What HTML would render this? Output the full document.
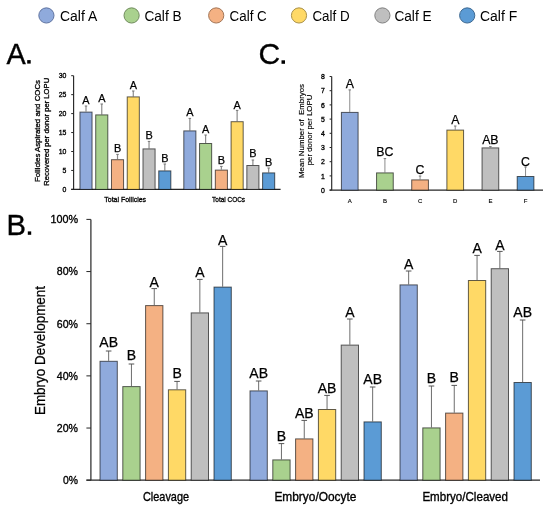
<!DOCTYPE html>
<html><head><meta charset="utf-8"><style>
html,body{margin:0;padding:0;background:#fff;}
body{width:550px;height:509px;overflow:hidden;}
svg{display:block;font-family:"Liberation Sans", sans-serif;will-change:transform;}
text{fill:#000;stroke:#000;stroke-width:0.25px;}
.h{stroke:none;}
.t{stroke-width:0.32px;}
.l{stroke-width:0.15px;}
.p{stroke-width:0.35px;}
.y{stroke-width:0.35px;}
</style></head><body>
<svg width="550" height="509" viewBox="0 0 550 509">
<circle cx="46.4" cy="15.45" r="7.6" fill="#8faadc" stroke="#5f73a0" stroke-width="1"/>
<text x="60.0" y="20.8" font-size="13.8" textLength="37.2" lengthAdjust="spacingAndGlyphs" class="h">Calf A</text>
<circle cx="131.6" cy="15.45" r="7.6" fill="#a9d18e" stroke="#6f8a5c" stroke-width="1"/>
<text x="144.4" y="20.8" font-size="13.8" textLength="37.2" lengthAdjust="spacingAndGlyphs" class="h">Calf B</text>
<circle cx="216.2" cy="15.45" r="7.6" fill="#f4b183" stroke="#a27556" stroke-width="1"/>
<text x="229.6" y="20.8" font-size="13.8" textLength="37.2" lengthAdjust="spacingAndGlyphs" class="h">Calf C</text>
<circle cx="299.0" cy="15.45" r="7.6" fill="#ffd966" stroke="#a99048" stroke-width="1"/>
<text x="312.4" y="20.8" font-size="13.8" textLength="37.2" lengthAdjust="spacingAndGlyphs" class="h">Calf D</text>
<circle cx="382.4" cy="15.45" r="7.6" fill="#bfbfbf" stroke="#808080" stroke-width="1"/>
<text x="394.4" y="20.8" font-size="13.8" textLength="37.2" lengthAdjust="spacingAndGlyphs" class="h">Calf E</text>
<circle cx="467.2" cy="15.45" r="7.6" fill="#5b9bd5" stroke="#3d6890" stroke-width="1"/>
<text x="480.0" y="20.8" font-size="13.8" textLength="37.2" lengthAdjust="spacingAndGlyphs" class="h">Calf F</text>
<text x="6.4" y="63.7" font-size="28.8" class="p">A</text>
<rect x="27.2" y="60.1" width="3.5" height="3.5" fill="#000"/>
<text x="258.6" y="63.9" font-size="30" class="p">C</text>
<rect x="281.5" y="60.3" width="3.5" height="3.5" fill="#000"/>
<text x="6.4" y="234.9" font-size="29.2" class="p">B</text>
<rect x="27.8" y="231.4" width="3.4" height="3.4" fill="#000"/>
<line x1="73.6" y1="75.7" x2="73.6" y2="189.4" stroke="#262626" stroke-width="1.15"/>
<line x1="71.2" y1="189.4" x2="280.6" y2="189.4" stroke="#262626" stroke-width="1.15"/>
<line x1="71.2" y1="189.40" x2="73.6" y2="189.40" stroke="#262626" stroke-width="1"/>
<text x="66.4" y="191.80" font-size="6.9" text-anchor="end" class="t">0</text>
<line x1="71.2" y1="170.45" x2="73.6" y2="170.45" stroke="#262626" stroke-width="1"/>
<text x="66.4" y="172.85" font-size="6.9" text-anchor="end" class="t">5</text>
<line x1="71.2" y1="151.50" x2="73.6" y2="151.50" stroke="#262626" stroke-width="1"/>
<text x="66.4" y="153.90" font-size="6.9" text-anchor="end" class="t">10</text>
<line x1="71.2" y1="132.55" x2="73.6" y2="132.55" stroke="#262626" stroke-width="1"/>
<text x="66.4" y="134.95" font-size="6.9" text-anchor="end" class="t">15</text>
<line x1="71.2" y1="113.60" x2="73.6" y2="113.60" stroke="#262626" stroke-width="1"/>
<text x="66.4" y="116.00" font-size="6.9" text-anchor="end" class="t">20</text>
<line x1="71.2" y1="94.65" x2="73.6" y2="94.65" stroke="#262626" stroke-width="1"/>
<text x="66.4" y="97.05" font-size="6.9" text-anchor="end" class="t">25</text>
<line x1="71.2" y1="75.70" x2="73.6" y2="75.70" stroke="#262626" stroke-width="1"/>
<text x="66.4" y="78.10" font-size="6.9" text-anchor="end" class="t">30</text>
<line x1="86.00" y1="106.00" x2="86.00" y2="111.60" stroke="#8c8c8c" stroke-width="1.2"/>
<line x1="84.75" y1="106.00" x2="87.25" y2="106.00" stroke="#777" stroke-width="1"/>
<rect x="79.95" y="112.10" width="12.10" height="77.30" fill="#8faadc" stroke="#000" stroke-opacity="0.62" stroke-width="1"/>
<text x="86.00" y="103.80" font-size="10.9" text-anchor="middle">A</text>
<line x1="101.76" y1="104.00" x2="101.76" y2="114.40" stroke="#8c8c8c" stroke-width="1.2"/>
<line x1="100.51" y1="104.00" x2="103.01" y2="104.00" stroke="#777" stroke-width="1"/>
<rect x="95.71" y="114.90" width="12.10" height="74.50" fill="#a9d18e" stroke="#000" stroke-opacity="0.62" stroke-width="1"/>
<text x="101.76" y="102.40" font-size="10.9" text-anchor="middle">A</text>
<line x1="117.52" y1="154.40" x2="117.52" y2="159.20" stroke="#8c8c8c" stroke-width="1.2"/>
<line x1="116.27" y1="154.40" x2="118.77" y2="154.40" stroke="#777" stroke-width="1"/>
<rect x="111.47" y="159.70" width="12.10" height="29.70" fill="#f4b183" stroke="#000" stroke-opacity="0.62" stroke-width="1"/>
<text x="117.52" y="152.20" font-size="10.9" text-anchor="middle">B</text>
<line x1="133.28" y1="91.00" x2="133.28" y2="96.40" stroke="#8c8c8c" stroke-width="1.2"/>
<line x1="132.03" y1="91.00" x2="134.53" y2="91.00" stroke="#777" stroke-width="1"/>
<rect x="127.23" y="96.90" width="12.10" height="92.50" fill="#ffd966" stroke="#000" stroke-opacity="0.62" stroke-width="1"/>
<text x="133.28" y="89.40" font-size="10.9" text-anchor="middle">A</text>
<line x1="149.04" y1="141.40" x2="149.04" y2="148.40" stroke="#8c8c8c" stroke-width="1.2"/>
<line x1="147.79" y1="141.40" x2="150.29" y2="141.40" stroke="#777" stroke-width="1"/>
<rect x="142.99" y="148.90" width="12.10" height="40.50" fill="#bfbfbf" stroke="#000" stroke-opacity="0.62" stroke-width="1"/>
<text x="149.04" y="139.40" font-size="10.9" text-anchor="middle">B</text>
<line x1="164.80" y1="164.00" x2="164.80" y2="170.40" stroke="#8c8c8c" stroke-width="1.2"/>
<line x1="163.55" y1="164.00" x2="166.05" y2="164.00" stroke="#777" stroke-width="1"/>
<rect x="158.75" y="170.90" width="12.10" height="18.50" fill="#5b9bd5" stroke="#000" stroke-opacity="0.62" stroke-width="1"/>
<text x="164.80" y="161.80" font-size="10.9" text-anchor="middle">B</text>
<line x1="189.85" y1="118.40" x2="189.85" y2="130.40" stroke="#8c8c8c" stroke-width="1.2"/>
<line x1="188.60" y1="118.40" x2="191.10" y2="118.40" stroke="#777" stroke-width="1"/>
<rect x="183.80" y="130.90" width="12.10" height="58.50" fill="#8faadc" stroke="#000" stroke-opacity="0.62" stroke-width="1"/>
<text x="189.85" y="116.20" font-size="10.9" text-anchor="middle">A</text>
<line x1="205.61" y1="135.00" x2="205.61" y2="143.00" stroke="#8c8c8c" stroke-width="1.2"/>
<line x1="204.36" y1="135.00" x2="206.86" y2="135.00" stroke="#777" stroke-width="1"/>
<rect x="199.56" y="143.50" width="12.10" height="45.90" fill="#a9d18e" stroke="#000" stroke-opacity="0.62" stroke-width="1"/>
<text x="205.61" y="132.80" font-size="10.9" text-anchor="middle">A</text>
<line x1="221.37" y1="166.40" x2="221.37" y2="169.60" stroke="#8c8c8c" stroke-width="1.2"/>
<line x1="220.12" y1="166.40" x2="222.62" y2="166.40" stroke="#777" stroke-width="1"/>
<rect x="215.32" y="170.10" width="12.10" height="19.30" fill="#f4b183" stroke="#000" stroke-opacity="0.62" stroke-width="1"/>
<text x="221.37" y="163.80" font-size="10.9" text-anchor="middle">B</text>
<line x1="237.13" y1="110.40" x2="237.13" y2="121.20" stroke="#8c8c8c" stroke-width="1.2"/>
<line x1="235.88" y1="110.40" x2="238.38" y2="110.40" stroke="#777" stroke-width="1"/>
<rect x="231.08" y="121.70" width="12.10" height="67.70" fill="#ffd966" stroke="#000" stroke-opacity="0.62" stroke-width="1"/>
<text x="237.13" y="109.40" font-size="10.9" text-anchor="middle">A</text>
<line x1="252.89" y1="160.00" x2="252.89" y2="165.00" stroke="#8c8c8c" stroke-width="1.2"/>
<line x1="251.64" y1="160.00" x2="254.14" y2="160.00" stroke="#777" stroke-width="1"/>
<rect x="246.84" y="165.50" width="12.10" height="23.90" fill="#bfbfbf" stroke="#000" stroke-opacity="0.62" stroke-width="1"/>
<text x="252.89" y="157.20" font-size="10.9" text-anchor="middle">B</text>
<line x1="268.65" y1="168.00" x2="268.65" y2="172.40" stroke="#8c8c8c" stroke-width="1.2"/>
<line x1="267.40" y1="168.00" x2="269.90" y2="168.00" stroke="#777" stroke-width="1"/>
<rect x="262.60" y="172.90" width="12.10" height="16.50" fill="#5b9bd5" stroke="#000" stroke-opacity="0.62" stroke-width="1"/>
<text x="268.65" y="165.80" font-size="10.9" text-anchor="middle">B</text>
<text x="125.2" y="202" font-size="7.8" text-anchor="middle" textLength="41.7" lengthAdjust="spacingAndGlyphs" class="t">Total Follicles</text>
<text x="228.6" y="202.3" font-size="7.8" text-anchor="middle" textLength="33" lengthAdjust="spacingAndGlyphs" class="t">Total COCs</text>
<text transform="translate(39.9,131) rotate(-90)" font-size="7.8" text-anchor="middle" textLength="102" lengthAdjust="spacingAndGlyphs" class="t">Follicles Aspirated and COCs</text>
<text transform="translate(49.4,131.8) rotate(-90)" font-size="7.7" text-anchor="middle" textLength="108" lengthAdjust="spacingAndGlyphs" class="t">Recovered per donor per LOPU</text>
<line x1="331.7" y1="76.5" x2="331.7" y2="190.1" stroke="#262626" stroke-width="1.15"/>
<line x1="329.6" y1="190.1" x2="543" y2="190.1" stroke="#262626" stroke-width="1.15"/>
<line x1="329.6" y1="190.10" x2="331.7" y2="190.10" stroke="#262626" stroke-width="1"/>
<text x="324.8" y="192.80" font-size="6.9" text-anchor="end" class="t">0</text>
<line x1="329.6" y1="175.90" x2="331.7" y2="175.90" stroke="#262626" stroke-width="1"/>
<text x="324.8" y="178.60" font-size="6.9" text-anchor="end" class="t">1</text>
<line x1="329.6" y1="161.70" x2="331.7" y2="161.70" stroke="#262626" stroke-width="1"/>
<text x="324.8" y="164.40" font-size="6.9" text-anchor="end" class="t">2</text>
<line x1="329.6" y1="147.50" x2="331.7" y2="147.50" stroke="#262626" stroke-width="1"/>
<text x="324.8" y="150.20" font-size="6.9" text-anchor="end" class="t">3</text>
<line x1="329.6" y1="133.30" x2="331.7" y2="133.30" stroke="#262626" stroke-width="1"/>
<text x="324.8" y="136.00" font-size="6.9" text-anchor="end" class="t">4</text>
<line x1="329.6" y1="119.10" x2="331.7" y2="119.10" stroke="#262626" stroke-width="1"/>
<text x="324.8" y="121.80" font-size="6.9" text-anchor="end" class="t">5</text>
<line x1="329.6" y1="104.90" x2="331.7" y2="104.90" stroke="#262626" stroke-width="1"/>
<text x="324.8" y="107.60" font-size="6.9" text-anchor="end" class="t">6</text>
<line x1="329.6" y1="90.70" x2="331.7" y2="90.70" stroke="#262626" stroke-width="1"/>
<text x="324.8" y="93.40" font-size="6.9" text-anchor="end" class="t">7</text>
<line x1="329.6" y1="76.50" x2="331.7" y2="76.50" stroke="#262626" stroke-width="1"/>
<text x="324.8" y="79.20" font-size="6.9" text-anchor="end" class="t">8</text>
<line x1="349.75" y1="89.90" x2="349.75" y2="111.90" stroke="#8c8c8c" stroke-width="1.0"/>
<line x1="348.50" y1="89.90" x2="351.00" y2="89.90" stroke="#777" stroke-width="1"/>
<rect x="341.40" y="112.40" width="16.70" height="77.70" fill="#8faadc" stroke="#000" stroke-opacity="0.62" stroke-width="1"/>
<text x="349.75" y="88.10" font-size="12.3" text-anchor="middle">A</text>
<text x="349.75" y="202.5" font-size="6" text-anchor="middle" class="l">A</text>
<line x1="384.91" y1="158.60" x2="384.91" y2="172.40" stroke="#8c8c8c" stroke-width="1.0"/>
<line x1="383.66" y1="158.60" x2="386.16" y2="158.60" stroke="#777" stroke-width="1"/>
<rect x="376.56" y="172.90" width="16.70" height="17.20" fill="#a9d18e" stroke="#000" stroke-opacity="0.62" stroke-width="1"/>
<text x="384.91" y="156.10" font-size="12.3" text-anchor="middle">BC</text>
<text x="384.91" y="202.5" font-size="6" text-anchor="middle" class="l">B</text>
<line x1="420.07" y1="176.00" x2="420.07" y2="179.40" stroke="#8c8c8c" stroke-width="1.0"/>
<line x1="418.82" y1="176.00" x2="421.32" y2="176.00" stroke="#777" stroke-width="1"/>
<rect x="411.72" y="179.90" width="16.70" height="10.20" fill="#f4b183" stroke="#000" stroke-opacity="0.62" stroke-width="1"/>
<text x="420.07" y="174.10" font-size="12.3" text-anchor="middle">C</text>
<text x="420.07" y="202.5" font-size="6" text-anchor="middle" class="l">C</text>
<line x1="455.23" y1="126.00" x2="455.23" y2="129.60" stroke="#8c8c8c" stroke-width="1.0"/>
<line x1="453.98" y1="126.00" x2="456.48" y2="126.00" stroke="#777" stroke-width="1"/>
<rect x="446.88" y="130.10" width="16.70" height="60.00" fill="#ffd966" stroke="#000" stroke-opacity="0.62" stroke-width="1"/>
<text x="455.23" y="124.10" font-size="12.3" text-anchor="middle">A</text>
<text x="455.23" y="202.5" font-size="6" text-anchor="middle" class="l">D</text>
<line x1="490.39" y1="146.60" x2="490.39" y2="147.40" stroke="#8c8c8c" stroke-width="1.0"/>
<line x1="489.14" y1="146.60" x2="491.64" y2="146.60" stroke="#777" stroke-width="1"/>
<rect x="482.04" y="147.90" width="16.70" height="42.20" fill="#bfbfbf" stroke="#000" stroke-opacity="0.62" stroke-width="1"/>
<text x="490.39" y="144.10" font-size="12.3" text-anchor="middle">AB</text>
<text x="490.39" y="202.5" font-size="6" text-anchor="middle" class="l">E</text>
<line x1="525.55" y1="167.00" x2="525.55" y2="176.00" stroke="#8c8c8c" stroke-width="1.0"/>
<line x1="524.30" y1="167.00" x2="526.80" y2="167.00" stroke="#777" stroke-width="1"/>
<rect x="517.20" y="176.50" width="16.70" height="13.60" fill="#5b9bd5" stroke="#000" stroke-opacity="0.62" stroke-width="1"/>
<text x="525.55" y="165.70" font-size="12.3" text-anchor="middle">C</text>
<text x="525.55" y="202.5" font-size="6" text-anchor="middle" class="l">F</text>
<text transform="translate(304,131) rotate(-90)" font-size="7.85" text-anchor="middle" textLength="94" lengthAdjust="spacingAndGlyphs" class="l">Mean Number of&#160; Embryos</text>
<text transform="translate(312.3,130) rotate(-90)" font-size="7.85" text-anchor="middle" textLength="70.7" lengthAdjust="spacingAndGlyphs" class="l">per donor per LOPU</text>
<line x1="90.9" y1="219.4" x2="90.9" y2="480.2" stroke="#262626" stroke-width="1.2"/>
<line x1="86.4" y1="480.2" x2="540" y2="480.2" stroke="#262626" stroke-width="1.2"/>
<line x1="86.4" y1="480.20" x2="90.9" y2="480.20" stroke="#262626" stroke-width="1"/>
<text x="78" y="484.10" font-size="11.3" text-anchor="end" textLength="15" lengthAdjust="spacingAndGlyphs" class="y">0%</text>
<line x1="86.4" y1="428.04" x2="90.9" y2="428.04" stroke="#262626" stroke-width="1"/>
<text x="78" y="431.94" font-size="11.3" text-anchor="end" textLength="21.2" lengthAdjust="spacingAndGlyphs" class="y">20%</text>
<line x1="86.4" y1="375.88" x2="90.9" y2="375.88" stroke="#262626" stroke-width="1"/>
<text x="78" y="379.78" font-size="11.3" text-anchor="end" textLength="21.2" lengthAdjust="spacingAndGlyphs" class="y">40%</text>
<line x1="86.4" y1="323.72" x2="90.9" y2="323.72" stroke="#262626" stroke-width="1"/>
<text x="78" y="327.62" font-size="11.3" text-anchor="end" textLength="21.2" lengthAdjust="spacingAndGlyphs" class="y">60%</text>
<line x1="86.4" y1="271.56" x2="90.9" y2="271.56" stroke="#262626" stroke-width="1"/>
<text x="78" y="275.46" font-size="11.3" text-anchor="end" textLength="21.2" lengthAdjust="spacingAndGlyphs" class="y">80%</text>
<line x1="86.4" y1="219.40" x2="90.9" y2="219.40" stroke="#262626" stroke-width="1"/>
<text x="78" y="223.30" font-size="11.3" text-anchor="end" textLength="27.6" lengthAdjust="spacingAndGlyphs" class="y">100%</text>
<line x1="108.65" y1="351.00" x2="108.65" y2="360.80" stroke="#6e6e6e" stroke-width="1.0"/>
<line x1="105.85" y1="351.00" x2="111.45" y2="351.00" stroke="#555" stroke-width="1"/>
<rect x="100.00" y="361.30" width="17.30" height="118.90" fill="#8faadc" stroke="#000" stroke-opacity="0.62" stroke-width="1"/>
<text x="108.65" y="347.20" font-size="14" text-anchor="middle">AB</text>
<line x1="131.45" y1="364.00" x2="131.45" y2="386.10" stroke="#6e6e6e" stroke-width="1.0"/>
<line x1="128.65" y1="364.00" x2="134.25" y2="364.00" stroke="#555" stroke-width="1"/>
<rect x="122.80" y="386.60" width="17.30" height="93.60" fill="#a9d18e" stroke="#000" stroke-opacity="0.62" stroke-width="1"/>
<text x="131.45" y="360.20" font-size="14" text-anchor="middle">B</text>
<line x1="154.25" y1="288.60" x2="154.25" y2="305.10" stroke="#6e6e6e" stroke-width="1.0"/>
<line x1="151.45" y1="288.60" x2="157.05" y2="288.60" stroke="#555" stroke-width="1"/>
<rect x="145.60" y="305.60" width="17.30" height="174.60" fill="#f4b183" stroke="#000" stroke-opacity="0.62" stroke-width="1"/>
<text x="154.25" y="287.20" font-size="14" text-anchor="middle">A</text>
<line x1="177.05" y1="381.40" x2="177.05" y2="389.30" stroke="#6e6e6e" stroke-width="1.0"/>
<line x1="174.25" y1="381.40" x2="179.85" y2="381.40" stroke="#555" stroke-width="1"/>
<rect x="168.40" y="389.80" width="17.30" height="90.40" fill="#ffd966" stroke="#000" stroke-opacity="0.62" stroke-width="1"/>
<text x="177.05" y="378.20" font-size="14" text-anchor="middle">B</text>
<line x1="199.85" y1="279.40" x2="199.85" y2="312.40" stroke="#6e6e6e" stroke-width="1.0"/>
<line x1="197.05" y1="279.40" x2="202.65" y2="279.40" stroke="#555" stroke-width="1"/>
<rect x="191.20" y="312.90" width="17.30" height="167.30" fill="#bfbfbf" stroke="#000" stroke-opacity="0.62" stroke-width="1"/>
<text x="199.85" y="277.20" font-size="14" text-anchor="middle">A</text>
<line x1="222.65" y1="246.40" x2="222.65" y2="286.60" stroke="#6e6e6e" stroke-width="1.0"/>
<line x1="219.85" y1="246.40" x2="225.45" y2="246.40" stroke="#555" stroke-width="1"/>
<rect x="214.00" y="287.10" width="17.30" height="193.10" fill="#5b9bd5" stroke="#000" stroke-opacity="0.62" stroke-width="1"/>
<text x="222.65" y="244.80" font-size="14" text-anchor="middle">A</text>
<line x1="258.65" y1="381.00" x2="258.65" y2="390.40" stroke="#6e6e6e" stroke-width="1.0"/>
<line x1="255.85" y1="381.00" x2="261.45" y2="381.00" stroke="#555" stroke-width="1"/>
<rect x="250.00" y="390.90" width="17.30" height="89.30" fill="#8faadc" stroke="#000" stroke-opacity="0.62" stroke-width="1"/>
<text x="258.65" y="378.20" font-size="14" text-anchor="middle">AB</text>
<line x1="281.45" y1="443.60" x2="281.45" y2="459.40" stroke="#6e6e6e" stroke-width="1.0"/>
<line x1="278.65" y1="443.60" x2="284.25" y2="443.60" stroke="#555" stroke-width="1"/>
<rect x="272.80" y="459.90" width="17.30" height="20.30" fill="#a9d18e" stroke="#000" stroke-opacity="0.62" stroke-width="1"/>
<text x="281.45" y="440.60" font-size="14" text-anchor="middle">B</text>
<line x1="304.25" y1="420.40" x2="304.25" y2="438.40" stroke="#6e6e6e" stroke-width="1.0"/>
<line x1="301.45" y1="420.40" x2="307.05" y2="420.40" stroke="#555" stroke-width="1"/>
<rect x="295.60" y="438.90" width="17.30" height="41.30" fill="#f4b183" stroke="#000" stroke-opacity="0.62" stroke-width="1"/>
<text x="304.25" y="417.60" font-size="14" text-anchor="middle">AB</text>
<line x1="327.05" y1="395.40" x2="327.05" y2="409.00" stroke="#6e6e6e" stroke-width="1.0"/>
<line x1="324.25" y1="395.40" x2="329.85" y2="395.40" stroke="#555" stroke-width="1"/>
<rect x="318.40" y="409.50" width="17.30" height="70.70" fill="#ffd966" stroke="#000" stroke-opacity="0.62" stroke-width="1"/>
<text x="327.05" y="392.60" font-size="14" text-anchor="middle">AB</text>
<line x1="349.85" y1="319.00" x2="349.85" y2="344.60" stroke="#6e6e6e" stroke-width="1.0"/>
<line x1="347.05" y1="319.00" x2="352.65" y2="319.00" stroke="#555" stroke-width="1"/>
<rect x="341.20" y="345.10" width="17.30" height="135.10" fill="#bfbfbf" stroke="#000" stroke-opacity="0.62" stroke-width="1"/>
<text x="349.85" y="316.60" font-size="14" text-anchor="middle">A</text>
<line x1="372.65" y1="387.00" x2="372.65" y2="421.40" stroke="#6e6e6e" stroke-width="1.0"/>
<line x1="369.85" y1="387.00" x2="375.45" y2="387.00" stroke="#555" stroke-width="1"/>
<rect x="364.00" y="421.90" width="17.30" height="58.30" fill="#5b9bd5" stroke="#000" stroke-opacity="0.62" stroke-width="1"/>
<text x="372.65" y="384.20" font-size="14" text-anchor="middle">AB</text>
<line x1="408.65" y1="271.00" x2="408.65" y2="284.40" stroke="#6e6e6e" stroke-width="1.0"/>
<line x1="405.85" y1="271.00" x2="411.45" y2="271.00" stroke="#555" stroke-width="1"/>
<rect x="400.00" y="284.90" width="17.30" height="195.30" fill="#8faadc" stroke="#000" stroke-opacity="0.62" stroke-width="1"/>
<text x="408.65" y="268.80" font-size="14" text-anchor="middle">A</text>
<line x1="431.45" y1="386.00" x2="431.45" y2="427.40" stroke="#6e6e6e" stroke-width="1.0"/>
<line x1="428.65" y1="386.00" x2="434.25" y2="386.00" stroke="#555" stroke-width="1"/>
<rect x="422.80" y="427.90" width="17.30" height="52.30" fill="#a9d18e" stroke="#000" stroke-opacity="0.62" stroke-width="1"/>
<text x="431.45" y="383.20" font-size="14" text-anchor="middle">B</text>
<line x1="454.25" y1="385.40" x2="454.25" y2="412.60" stroke="#6e6e6e" stroke-width="1.0"/>
<line x1="451.45" y1="385.40" x2="457.05" y2="385.40" stroke="#555" stroke-width="1"/>
<rect x="445.60" y="413.10" width="17.30" height="67.10" fill="#f4b183" stroke="#000" stroke-opacity="0.62" stroke-width="1"/>
<text x="454.25" y="382.20" font-size="14" text-anchor="middle">B</text>
<line x1="477.05" y1="255.40" x2="477.05" y2="280.00" stroke="#6e6e6e" stroke-width="1.0"/>
<line x1="474.25" y1="255.40" x2="479.85" y2="255.40" stroke="#555" stroke-width="1"/>
<rect x="468.40" y="280.50" width="17.30" height="199.70" fill="#ffd966" stroke="#000" stroke-opacity="0.62" stroke-width="1"/>
<text x="477.05" y="253.20" font-size="14" text-anchor="middle">A</text>
<line x1="499.85" y1="251.40" x2="499.85" y2="268.20" stroke="#6e6e6e" stroke-width="1.0"/>
<line x1="497.05" y1="251.40" x2="502.65" y2="251.40" stroke="#555" stroke-width="1"/>
<rect x="491.20" y="268.70" width="17.30" height="211.50" fill="#bfbfbf" stroke="#000" stroke-opacity="0.62" stroke-width="1"/>
<text x="499.85" y="250.20" font-size="14" text-anchor="middle">A</text>
<line x1="522.65" y1="320.00" x2="522.65" y2="382.00" stroke="#6e6e6e" stroke-width="1.0"/>
<line x1="519.85" y1="320.00" x2="525.45" y2="320.00" stroke="#555" stroke-width="1"/>
<rect x="514.00" y="382.50" width="17.30" height="97.70" fill="#5b9bd5" stroke="#000" stroke-opacity="0.62" stroke-width="1"/>
<text x="522.65" y="317.20" font-size="14" text-anchor="middle">AB</text>
<text x="166" y="500.6" font-size="12.2" text-anchor="middle" textLength="46" lengthAdjust="spacingAndGlyphs" class="y">Cleavage</text>
<text x="315.4" y="500.6" font-size="12.2" text-anchor="middle" textLength="82" lengthAdjust="spacingAndGlyphs" class="y">Embryo/Oocyte</text>
<text x="465.2" y="500.6" font-size="12.2" text-anchor="middle" textLength="85.6" lengthAdjust="spacingAndGlyphs" class="y">Embryo/Cleaved</text>
<text transform="translate(45.4,350.5) rotate(-90)" font-size="13.8" text-anchor="middle" textLength="129" lengthAdjust="spacingAndGlyphs">Embryo Development</text>
</svg>
</body></html>
